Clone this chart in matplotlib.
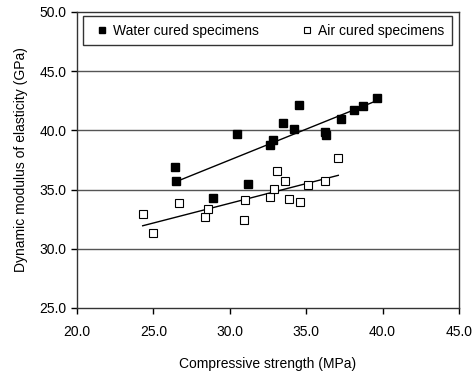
import numpy as np
import matplotlib
matplotlib.use("Agg")
import matplotlib.pyplot as plt
from matplotlib.ticker import MultipleLocator, FormatStrFormatter

plt.rcParams['font.family'] = ['Liberation Sans', 'DejaVu Sans']

water_x = [26.4, 26.5, 28.9, 30.5, 31.2, 32.6, 32.8, 33.5, 34.2, 34.5, 36.2, 36.3, 37.3, 38.1, 38.7, 39.6]
water_y = [36.9, 35.7, 34.3, 39.7, 35.5, 38.8, 39.2, 40.6, 40.1, 42.15, 39.85, 39.6, 40.95, 41.75, 42.05, 42.7]

air_x = [24.3, 25.0, 26.7, 28.4, 28.6, 30.9, 31.0, 32.6, 32.9, 33.1, 33.6, 33.9, 34.6, 35.1, 36.2, 37.1]
air_y = [32.97, 31.3, 33.87, 32.7, 33.4, 32.45, 34.15, 34.4, 35.06, 36.55, 35.7, 34.18, 33.92, 35.35, 35.76, 37.69]

labels = ["Water cured specimens", "Air cured specimens"]

fig = plt.figure(figsize=(4.74, 3.76), dpi=100)
ax = fig.add_axes([0.1624, 0.1809, 0.8060, 0.7872])

for yv in [30, 35, 40, 45]:
    ax.axhline(yv, color='#555555', lw=1.0, zorder=0)

ax.plot(water_x, water_y, 's', ms=5.5, mfc='black', mec='black', lw=0, label=labels[0], zorder=3)
ax.plot(air_x, air_y, 's', ms=5.5, mfc='white', mec='black', mew=0.8, lw=0, label=labels[1], zorder=3)

for xs, ys in [(water_x, water_y), (air_x, air_y)]:
    p = np.polyfit(xs, ys, 1)
    xx = np.array([min(xs), max(xs)])
    ax.plot(xx, np.polyval(p, xx), color='black', lw=1.0, zorder=2)

ax.set_xlim(20, 45)
ax.set_ylim(25, 50)
ax.xaxis.set_major_locator(MultipleLocator(5))
ax.yaxis.set_major_locator(MultipleLocator(5))
ax.xaxis.set_major_formatter(FormatStrFormatter('%.1f'))
ax.yaxis.set_major_formatter(FormatStrFormatter('%.1f'))
ax.tick_params(direction='out', length=4, width=1, labelsize=10, colors='black')
ax.tick_params(axis='x', pad=8)
for s in ax.spines.values():
    s.set_color('#333333')
    s.set_linewidth(1.0)

ax.set_xlabel("Compressive strength (MPa)", fontsize=10, labelpad=13)
ax.set_ylabel("Dynamic modulus of elasticity (GPa)", fontsize=10, labelpad=8)

leg = ax.legend(loc='upper left', bbox_to_anchor=(0.0157, 0.885, 0.966, 0.101), mode='expand',
                ncol=2, frameon=True, fancybox=False, fontsize=10, handlelength=1.6,
                handletextpad=0.0, borderpad=0.55, markerscale=0.9, borderaxespad=0.0)
leg.get_frame().set_edgecolor('black')
leg.get_frame().set_linewidth(1.0)

fig.savefig("out.png", dpi=100)
